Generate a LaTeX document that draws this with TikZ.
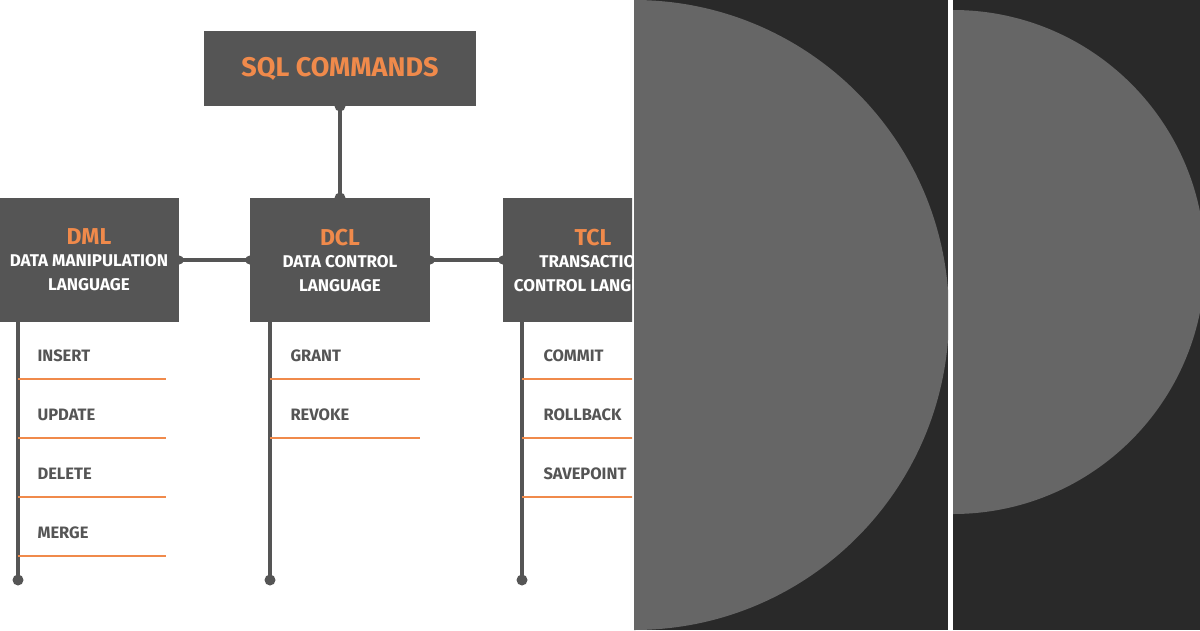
\documentclass[tikz,border=0pt]{standalone}
\usepackage{fontspec}
\setmainfont{Fira Sans}
\definecolor{boxg}{HTML}{555555}
\definecolor{org}{HTML}{F08A4B}
\definecolor{panel}{HTML}{292929}
\definecolor{circ}{HTML}{666666}
\begin{document}
\begin{tikzpicture}[x=1pt,y=-1pt,
  box/.style={fill=boxg,inner sep=0,align=center,text=white,font=\bfseries\fontsize{17}{24}\selectfont},
  ln/.style={draw=boxg,line width=4pt},
  dot/.style={circle,fill=boxg,inner sep=0,minimum size=11pt},
  item/.style={anchor=west,text=boxg,font=\bfseries\fontsize{16.5}{20}\selectfont},
  ul/.style={draw=org,line width=2pt}]
\useasboundingbox (0,0) rectangle (1200,630);
\fill[white] (0,0) rectangle (1200,630);
\begin{scope}
\clip (0,0) rectangle (632,630);
\node[box,minimum width=272pt,minimum height=75pt,font=\bfseries\fontsize{27}{30}\selectfont,text=org] (sql) at (340,68.5) {SQL COMMANDS};
\foreach \n/\x/\a/\b in {dml/89/DML/{DATA MANIPULATION\\LANGUAGE},dcl/340/DCL/{DATA CONTROL\\LANGUAGE},tcl/593/TCL/{TRANSACTION\\CONTROL LANGUAGE}}{
  \node[box,minimum width=180pt,minimum height=124pt] (\n) at (\x,260) {{\color{org}\fontsize{23}{28}\selectfont\a}\\[-2pt]\b};
}
\coordinate (t1) at (340,106); \coordinate (t2) at (340,198);
\draw[ln] (t1) -- (t2);
\node[dot] at (t1) {}; \node[dot] at (t2) {};
\draw[ln] (dml.east) -- (dcl.west); \draw[ln] (dcl.east) -- (tcl.west);
\foreach \c in {dml.east,dcl.west,dcl.east,tcl.west} \node[dot,minimum size=9pt] at (\c) {};
\foreach \n/\x in {dml/18,dcl/270,tcl/522}{
  \coordinate (\n top) at (\x,322); \coordinate (\n bot) at (\x,580);
  \draw[ln] (\n top) -- (\n bot); \node[dot] at (\n bot) {};
}
\foreach \t [count=\i from 0] in {INSERT,UPDATE,DELETE,MERGE}{
  \node[item] at (34,356+59*\i) {\t};
  \draw[ul] (18,379+59*\i) -- (166,379+59*\i);}
\foreach \t [count=\i from 0] in {GRANT,REVOKE}{
  \node[item] at (287,356+59*\i) {\t};
  \draw[ul] (270,379+59*\i) -- (420,379+59*\i);}
\foreach \t [count=\i from 0] in {COMMIT,ROLLBACK,SAVEPOINT}{
  \node[item] at (540,356+59*\i) {\t};
  \draw[ul] (522,379+59*\i) -- (672,379+59*\i);}
\end{scope}
\fill[panel] (634,0) rectangle (948,630);
\fill[panel] (953,0) rectangle (1200,630);
\begin{scope}\clip (634,0) rectangle (948,630);
\fill[circ] (634,315) circle (315);\end{scope}
\begin{scope}\clip (953,0) rectangle (1200,630);
\fill[circ] (953,262) circle (252);\end{scope}
\end{tikzpicture}
\end{document}
